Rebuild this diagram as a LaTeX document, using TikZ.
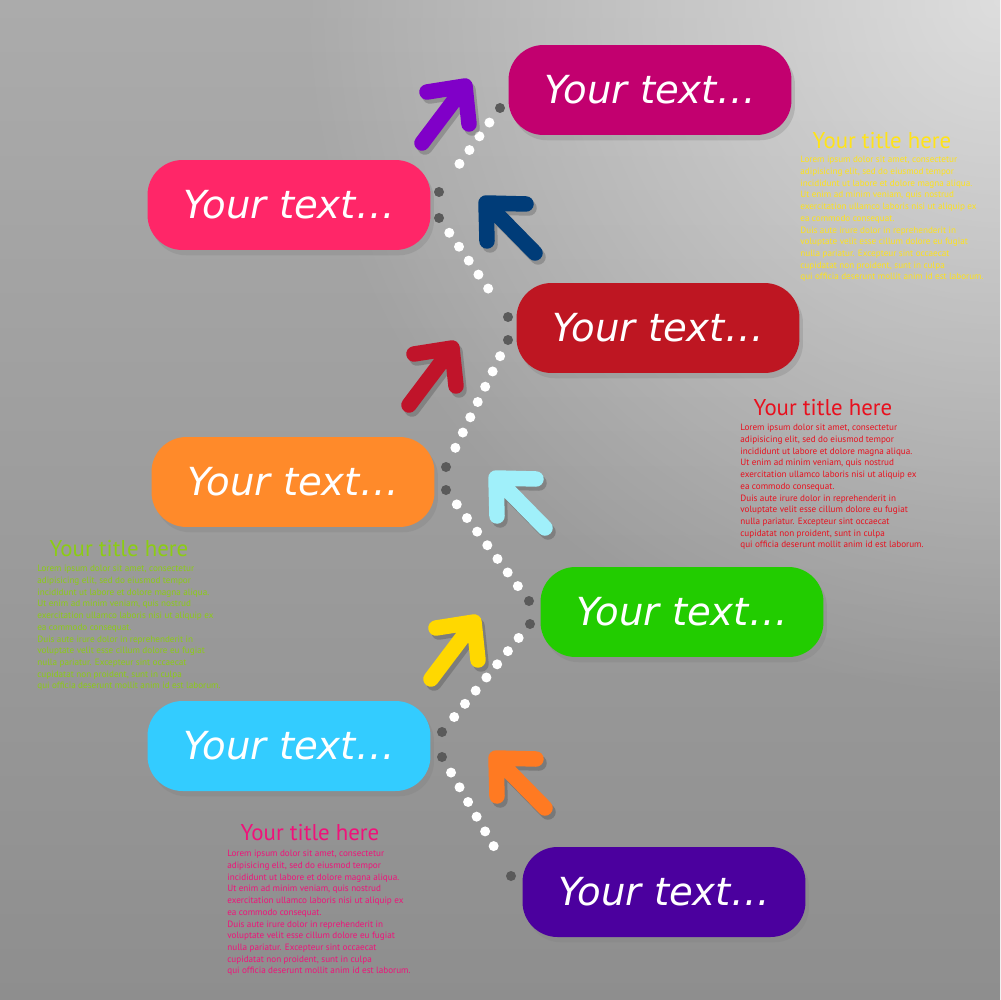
\documentclass[tikz,border=0pt]{standalone}
\usepackage{fontspec}
\usetikzlibrary{shadows, fadings}
\newfontfamily\handfont{DejaVu Sans}
\newfontfamily\bodyfont{PT Sans}
\definecolor{bgtop}{HTML}{ABABAB}
\definecolor{bgbottom}{HTML}{8E8E8E}
\definecolor{dotgray}{HTML}{5A5A5A}
% boxes
\definecolor{boxmagenta}{HTML}{C2006F}
\definecolor{boxrose}{HTML}{FF2668}
\definecolor{boxcrimson}{HTML}{BE1622}
\definecolor{boxorange}{HTML}{FF8A2A}
\definecolor{boxgreen}{HTML}{22CC00}
\definecolor{boxsky}{HTML}{33CCFF}
\definecolor{boxviolet}{HTML}{4B009E}
% arrows
\definecolor{arrviolet}{HTML}{8000C8}
\definecolor{arrnavy}{HTML}{003C78}
\definecolor{arrcrimson}{HTML}{C0142A}
\definecolor{arrice}{HTML}{A0F0FA}
\definecolor{arryellow}{HTML}{FFD800}
\definecolor{arrorange}{HTML}{FF7A22}
% texts
\definecolor{txtyellow}{HTML}{FFE31A}
\definecolor{txtred}{HTML}{E8101E}
\definecolor{txtgreen}{HTML}{8CCC14}
\definecolor{txtpink}{HTML}{F0127A}
\tikzfading[name=glowfade, inner color=transparent!0, outer color=transparent!100]
\newcommand\loremtext{Lorem ipsum dolor sit amet, consectetur\\
adipisicing elit, sed do eiusmod tempor\\
incididunt ut labore et dolore magna aliqua.\\
Ut enim ad minim veniam, quis nostrud\\
exercitation ullamco laboris nisi ut aliquip ex\\
ea commodo consequat.\\
Duis aute irure dolor in reprehenderit in\\
voluptate velit esse cillum dolore eu fugiat\\
nulla pariatur. Excepteur sint occaecat\\
cupidatat non proident, sunt in culpa\\
qui officia deserunt mollit anim id est laborum.}
\begin{document}
\begin{tikzpicture}[
  x=0.02cm, y=-0.02cm,
  pill/.style={rectangle, rounded corners=0.7cm, fill=#1, minimum width=5.66cm, minimum height=1.8cm, text=white, font=\handfont\itshape\fontsize{22}{26}\selectfont, drop shadow={shadow xshift=2pt, shadow yshift=-3pt, opacity=0.3}},
  whitedots/.style={white, line width=0.2cm, line cap=round, dash pattern=on 0pt off 0.34cm, shorten <=0.36cm, shorten >=0.36cm},
  enddot/.style={fill=dotgray},
  arrowicon/.style={draw=#1, line width=0.31cm, line cap=round, line join=round},
  arrowshade/.style={draw=black, opacity=0.18, line width=0.31cm, line cap=round, line join=round},
  titletext/.style={font=\bodyfont\fontsize{13}{15}\selectfont, text=#1, inner sep=0pt},
  bodytext/.style={font=\bodyfont\fontsize{5.2}{6.66}\selectfont, text=#1, align=left, inner sep=0pt, anchor=north west},
]
\useasboundingbox (0,0) rectangle (1000,1000);

% background
\begin{scope}
\clip (0,0) rectangle (1000,1000);
\shade[top color=bgtop, bottom color=bgbottom] (0,0) rectangle (1000,1000);
\fill[white, opacity=0.6, path fading=glowfade] (1000,0) circle (700);
\end{scope}

% path coordinates
\coordinate (d0) at (500,108);
\coordinate (d1) at (439,192);
\coordinate (d2) at (439,218);
\coordinate (d3) at (508,317);
\coordinate (d4) at (508,340);
\coordinate (d5) at (446,467);
\coordinate (d6) at (446,490);
\coordinate (d7) at (529,601);
\coordinate (d8) at (530,624);
\coordinate (d9) at (442,732);
\coordinate (d10) at (442,757);
\coordinate (d11) at (511,876);

% dotted path
\foreach \a/\b in {d0/d1, d2/d3, d4/d5, d6/d7, d8/d9, d10/d11}
  \draw[whitedots] (\a) -- (\b);
\foreach \d in {d0,d1,d2,d3,d4,d5,d6,d7,d8,d9,d10,d11}
  \fill[enddot] (\d) circle (5);

% text boxes
\node[pill=boxmagenta] (magenta) at (650,90) {Your text\dots};
\node[pill=boxrose] (rose) at (289,205) {Your text\dots};
\node[pill=boxcrimson] (crimson) at (658,328) {Your text\dots};
\node[pill=boxorange] (orange) at (293,482) {Your text\dots};
\node[pill=boxgreen] (green) at (682,612) {Your text\dots};
\node[pill=boxsky] (sky) at (289,746) {Your text\dots};
\node[pill=boxviolet] (violet) at (664,892) {Your text\dots};

% arrows, up-right
\foreach \tx/\ty/\col in {465/86/arrviolet, 452/348/arrcrimson, 474/622/arryellow}{
  \draw[arrowshade] (\tx+3,\ty+4) ++(-38,6) -- ++(38,-6) -- ++(4,38) (\tx+3,\ty+4) -- ++(-43,57);
  \draw[arrowicon=\col] (\tx,\ty) ++(-38,6) -- ++(38,-6) -- ++(4,38) (\tx,\ty) -- ++(-43,57);
}
% arrows, up-left
\foreach \tx/\ty/\col in {486/203/arrnavy, 496/478/arrice, 496/758/arrorange}{
  \draw[arrowshade] (\tx+3,\ty+4) ++(40,1) -- ++(-40,-1) -- ++(1,38) (\tx+3,\ty+4) -- ++(49,50);
  \draw[arrowicon=\col] (\tx,\ty) ++(40,1) -- ++(-40,-1) -- ++(1,38) (\tx,\ty) -- ++(49,50);
}

% side texts
\node[titletext=txtyellow] (titleA) at (882,141) {Your title here};
\node[bodytext=txtyellow] (bodyA) at (800,156) {\loremtext};
\node[titletext=txtred] (titleB) at (823,408) {Your title here};
\node[bodytext=txtred] (bodyB) at (740,424) {\loremtext};
\node[titletext=txtgreen] (titleC) at (119,549) {Your title here};
\node[bodytext=txtgreen] (bodyC) at (37,565) {\loremtext};
\node[titletext=txtpink] (titleD) at (310,833) {Your title here};
\node[bodytext=txtpink] (bodyD) at (227,850) {\loremtext};

\end{tikzpicture}
\end{document}
